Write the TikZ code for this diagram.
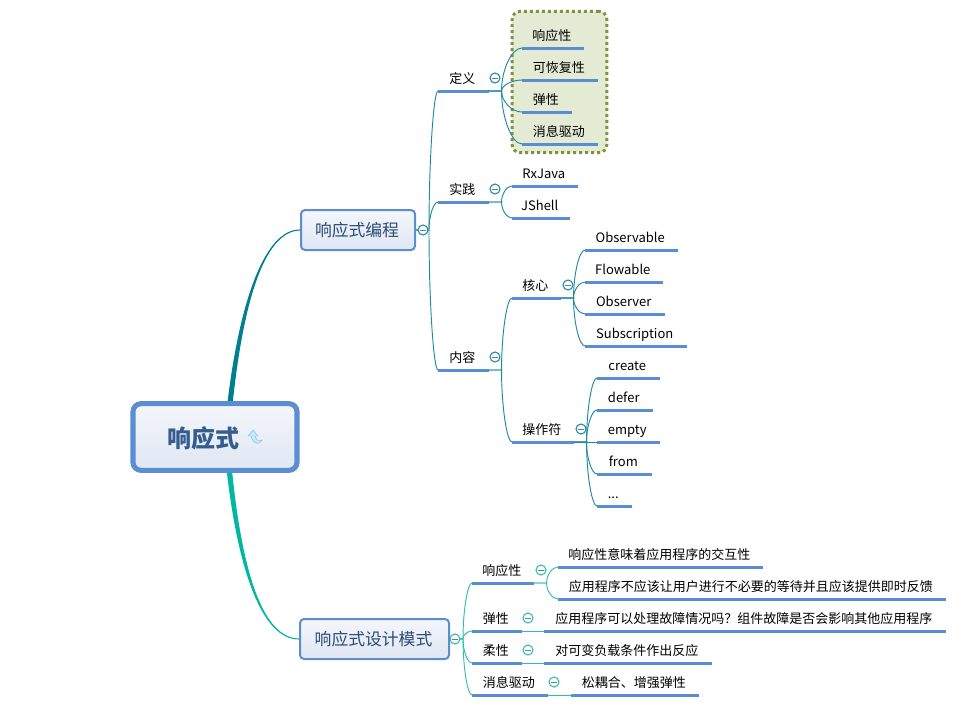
\documentclass[tikz,border=0pt]{standalone}
\usepackage{fontspec}
\setmainfont{Noto Sans CJK SC}
\usetikzlibrary{calc}
\definecolor{barblue}{HTML}{5B8DD3}
\definecolor{boxtop}{HTML}{F4F6FB}
\definecolor{boxbot}{HTML}{DFE7F3}
\definecolor{upteal}{HTML}{00808F}
\definecolor{lowgreen}{HTML}{00B89F}
\definecolor{uptwig}{HTML}{1F8A9E}
\definecolor{lowtwig}{HTML}{2EBFA8}
\definecolor{grpfill}{HTML}{E4EBD4}
\definecolor{grpline}{HTML}{7F933F}
\definecolor{maintext}{HTML}{2C4A77}
\definecolor{roottext}{HTML}{355C8E}
\definecolor{foldbar}{HTML}{5F7F9F}
\tikzset{
  rootbox/.style={rectangle, rounded corners=6pt, draw=barblue, line width=3.8pt, top color=boxtop, bottom color=boxbot, minimum width=123pt, minimum height=50pt, inner sep=0pt},
  mainbox/.style={rectangle, rounded corners=3pt, draw=barblue, line width=1.5pt, top color=boxtop, bottom color=boxbot, minimum height=30pt, inner sep=0pt, font=\fontsize{12.6pt}{14pt}\selectfont, text=maintext, execute at end node=\hspace*{1.5pt}},
  wd/.style={minimum width=#1*0.75pt},
  topic/.style={rectangle, anchor=south west, inner sep=0pt, minimum height=16.5pt, text height=7.6pt, text depth=2.2pt, font=\fontsize{9.75pt}{12pt}\selectfont, execute at end node=\hspace*{1.5pt},
    append after command={(\tikzlastnode.south west) edge[line width=2.25pt, barblue] (\tikzlastnode.south east)}},
  fold/.style={circle, draw=#1, line width=0.8pt, fill=white, minimum size=7.5pt, inner sep=0pt,
    path picture={\draw[line width=0.7pt, foldbar] ([xshift=1.8pt]path picture bounding box.west) -- ([xshift=-1.8pt]path picture bounding box.east);}},
  twig/.style={draw=#1, line width=0.7pt, to path={let \p1=(\tikztostart), \p2=(\tikztotarget) in
    -- (\x1+9.75pt,\y1) .. controls (\x1+9.75pt,{0.5*\y1+0.5*\y2}) and ({0.5*\x1+4.875pt+0.5*\x2},\y2) .. (\x2,\y2)}},
  grpbox/.style={rectangle, rounded corners=6pt, draw=grpline, fill=grpfill, line width=2.2pt, dash pattern=on 2.2pt off 2.3pt, minimum width=71pt, minimum height=106pt}
}
\begin{document}
\begin{tikzpicture}[x=0.75pt, y=-0.75pt]
  \useasboundingbox (0,0) rectangle (971,719);
  \node[grpbox] (grp) at (559.5,82) {};

  % boxes
  \node[mainbox, wd=114] (prog) at (358,230) {响应式编程};
  \node[mainbox, wd=149] (design) at (374.5,639) {响应式设计模式};

  % first level
  \node[topic, wd=50] (dingyi) at (438,91) {定义};
  \node[topic, wd=50] (shijian) at (438,202) {实践};
  \node[topic, wd=50] (neirong) at (438,370) {内容};
  \node[topic, wd=61] (xiangying) at (472,583) {响应性};
  \node[topic, wd=49] (tanxing) at (472,631) {弹性};
  \node[topic, wd=49] (rouxing) at (472,663) {柔性};
  \node[topic, wd=75] (xiaoxi) at (472,695) {消息驱动};

  % second level
  \node[topic, wd=61] (dxy) at (522,48) {响应性};
  \node[topic, wd=75] (dhf) at (522,80) {可恢复性};
  \node[topic, wd=49] (dtx) at (522,112) {弹性};
  \node[topic, wd=75] (dxx) at (522,144) {消息驱动};
  \node[topic, wd=65] (rxjava) at (512,186) {RxJava};
  \node[topic, wd=57] (jshell) at (512,218) {JShell};
  \node[topic, wd=48] (hexin) at (512,298) {核心};
  \node[topic, wd=61] (caozuo) at (512,442) {操作符};

  \node[topic, wd=92] (observable) at (585,250) {Observable};
  \node[topic, wd=77] (flowable) at (585,282) {Flowable};
  \node[topic, wd=79] (observer) at (585,314) {Observer};
  \node[topic, wd=101] (subscr) at (585,346) {Subscription};
  \node[topic, wd=62] (create) at (597,378) {create};
  \node[topic, wd=55] (defer) at (597,410) {defer};
  \node[topic, wd=62] (empty) at (597,442) {empty};
  \node[topic, wd=54] (from) at (597,474) {from};
  \node[topic, wd=34] (dots) at (597,506) {...};

  \node[topic, wd=204] (xy1) at (558,567) {响应性意味着应用程序的交互性};
  \node[topic, wd=387] (xy2) at (558,599) {应用程序不应该让用户进行不必要的等待并且应该提供即时反馈};
  \node[topic, wd=401] (tx1) at (544,631) {应用程序可以处理故障情况吗？组件故障是否会影响其他应用程序};
  \node[topic, wd=167] (rx1) at (544,663) {对可变负载条件作出反应};
  \node[topic, wd=127] (xx1) at (571,695) {松耦合、增强弹性};

  % root and its two thick links
  \draw[upteal, line width=0.8pt] (228,420) .. controls (240,300) and (265,230) .. (prog.west);
  \fill[upteal] (225.5,420) .. controls (238,300) and (265,229.5) .. (prog.west) .. controls (265,231) and (242,300) .. (231,420) -- cycle;
  \draw[lowgreen, line width=0.8pt] (228,460) .. controls (240,580) and (265,639) .. (design.west);
  \fill[lowgreen] (225.5,460) .. controls (238,580) and (265,640) .. (design.west) .. controls (265,638) and (242,580) .. (231,460) -- cycle;
  \node[rootbox] (root) at (215,437) {};
  \node[font=\fontsize{18pt}{20pt}\selectfont\bfseries, text=roottext] (rootlabel) at (203,438.5) {响应式};
  \fill[blue!30!cyan!25, draw=barblue!70, line width=0.3pt] (253,430) -- (258,436) -- (255.5,436) .. controls (255.5,440) and (258,441) .. (262,440) .. controls (260,445) and (253,445) .. (251,436) -- (248,436) -- cycle;

  % links
  \draw[twig=uptwig] (prog.east) to (dingyi.south west);
  \draw[twig=uptwig] (prog.east) to (shijian.south west);
  \draw[twig=uptwig] (prog.east) to (neirong.south west);
  \draw[twig=uptwig] (dingyi.south east) to (dxy.south west);
  \draw[twig=uptwig] (dingyi.south east) to (dhf.south west);
  \draw[twig=uptwig] (dingyi.south east) to (dtx.south west);
  \draw[twig=uptwig] (dingyi.south east) to (dxx.south west);
  \draw[twig=uptwig] (shijian.south east) to (rxjava.south west);
  \draw[twig=uptwig] (shijian.south east) to (jshell.south west);
  \draw[twig=uptwig] (neirong.south east) to (hexin.south west);
  \draw[twig=uptwig] (neirong.south east) to (caozuo.south west);
  \draw[twig=uptwig] (hexin.south east) to (observable.south west);
  \draw[twig=uptwig] (hexin.south east) to (flowable.south west);
  \draw[twig=uptwig] (hexin.south east) to (observer.south west);
  \draw[twig=uptwig] (hexin.south east) to (subscr.south west);
  \draw[twig=uptwig] (caozuo.south east) to (create.south west);
  \draw[twig=uptwig] (caozuo.south east) to (defer.south west);
  \draw[twig=uptwig] (caozuo.south east) to (empty.south west);
  \draw[twig=uptwig] (caozuo.south east) to (from.south west);
  \draw[twig=uptwig] (caozuo.south east) to (dots.south west);
  \draw[twig=lowtwig] (design.east) to (xiangying.south west);
  \draw[twig=lowtwig] (design.east) to (tanxing.south west);
  \draw[twig=lowtwig] (design.east) to (rouxing.south west);
  \draw[twig=lowtwig] (design.east) to (xiaoxi.south west);
  \draw[twig=lowtwig] (xiangying.south east) to (xy1.south west);
  \draw[twig=lowtwig] (xiangying.south east) to (xy2.south west);
  \draw[twig=lowtwig] (tanxing.south east) to (tx1.south west);
  \draw[twig=lowtwig] (rouxing.south east) to (rx1.south west);
  \draw[twig=lowtwig] (xiaoxi.south east) to (xx1.south west);

  % fold marks
  \node[fold=uptwig] (fprog) at (423,230) {};
  \node[fold=uptwig] (fding) at (495,78) {};
  \node[fold=uptwig] (fshi) at (495,189) {};
  \node[fold=uptwig] (fnei) at (495,357) {};
  \node[fold=uptwig] (fhe) at (568,285) {};
  \node[fold=uptwig] (fcao) at (581,429) {};
  \node[fold=lowtwig] (fdes) at (455,639) {};
  \node[fold=lowtwig] (fxy) at (541,570) {};
  \node[fold=lowtwig] (ftx) at (528,618) {};
  \node[fold=lowtwig] (frx) at (528,650) {};
  \node[fold=lowtwig] (fxx) at (554,682) {};
\end{tikzpicture}
\end{document}
